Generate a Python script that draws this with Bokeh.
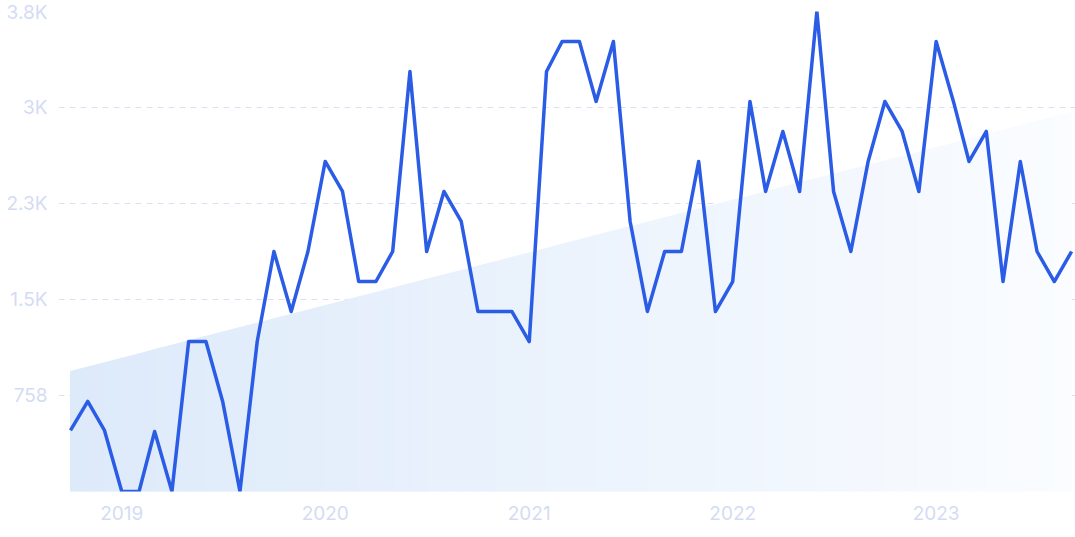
import numpy as np
import pandas as pd
from bokeh.plotting import figure
from bokeh.models import Range1d, FixedTicker, DatetimeTickFormatter
from bokeh.embed import file_html
from bokeh.resources import INLINE

# ---- data ----
start_month = "2018-10-01"
values = [482, 711, 482, 0, 0, 474, 0, 1184, 1184, 711,
          0, 1184, 1895, 1421, 1895, 2606, 2369, 1658, 1658, 1895,
          3316, 1895, 2369, 2132, 1421, 1421, 1421, 1184, 3316, 3553,
          3553, 3080, 3553, 2132, 1421, 1895, 1895, 2606, 1421, 1658,
          3080, 2369, 2843, 2369, 3790, 2369, 1895, 2606, 3080, 2843,
          2369, 3553, 3080, 2606, 2843, 1658, 2606, 1895, 1658, 1895]
trend_start = 948
trend_end = 2993
y_ticks = [758, 1516, 2274, 3032, 3790]
y_tick_labels = ["758", "1.5K", "2.3K", "3K", "3.8K"]
year_ticks = ["2019-01-01", "2020-01-01", "2021-01-01", "2022-01-01", "2023-01-01"]

dates = pd.date_range(start_month, periods=len(values), freq="MS")
trend = np.linspace(trend_start, trend_end, len(values))

TEXT = "#d4dcf4"

p = figure(width=1075, height=537, x_axis_type="datetime",
           output_backend="svg", toolbar_location=None,
           min_border_left=58, min_border_right=0,
           min_border_top=11, min_border_bottom=46)
p.x_range = Range1d(dates[0] - pd.Timedelta(days=21.5), dates[-1] + pd.Timedelta(days=7))
p.y_range = Range1d(0, 3790)

# gradient trend area as strips
def mix(c1, c2, t):
    a = [int(c1[i:i+2], 16) for i in (1, 3, 5)]
    b = [int(c2[i:i+2], 16) for i in (1, 3, 5)]
    return "#%02x%02x%02x" % tuple(int(round(a[k] + (b[k] - a[k]) * t)) for k in range(3))

xs, ys, cols = [], [], []
n = len(dates)
for i in range(n - 1):
    xs.append([dates[i], dates[i + 1], dates[i + 1], dates[i]])
    ys.append([0, 0, trend[i + 1], trend[i]])
    cols.append(mix("#ddeafa", "#fafcff", (i + 0.5) / (n - 1)))
p.patches(xs=xs, ys=ys, fill_color=cols, line_color=cols, line_width=1)

p.line(dates, values, line_color="#2b5ce6", line_width=3.5, line_join="round")

p.outline_line_color = None
p.xgrid.grid_line_color = None
p.ygrid.grid_line_color = "#d9e2f5"
p.ygrid.grid_line_dash = "6 5"
p.ygrid.ticker = FixedTicker(ticks=y_ticks)

p.yaxis.ticker = FixedTicker(ticks=y_ticks)
p.yaxis.major_label_overrides = dict(zip(y_ticks, y_tick_labels))
p.xaxis.ticker = FixedTicker(ticks=[pd.Timestamp(d).value / 1e6 for d in year_ticks])
p.xaxis.formatter = DatetimeTickFormatter(years="%Y", months="%Y", days="%Y")

for ax in (p.xaxis, p.yaxis):
    ax.axis_line_color = None
    ax.major_tick_line_color = None
    ax.minor_tick_line_color = None
    ax.major_tick_out = 0
    ax.major_tick_in = 0
    ax.major_label_text_color = TEXT
    ax.major_label_text_font = "Inter"
    ax.major_label_text_font_size = "19px"
p.yaxis.major_label_standoff = 11
p.xaxis.major_label_standoff = 14

open("out.html", "w").write(file_html(p, INLINE))
